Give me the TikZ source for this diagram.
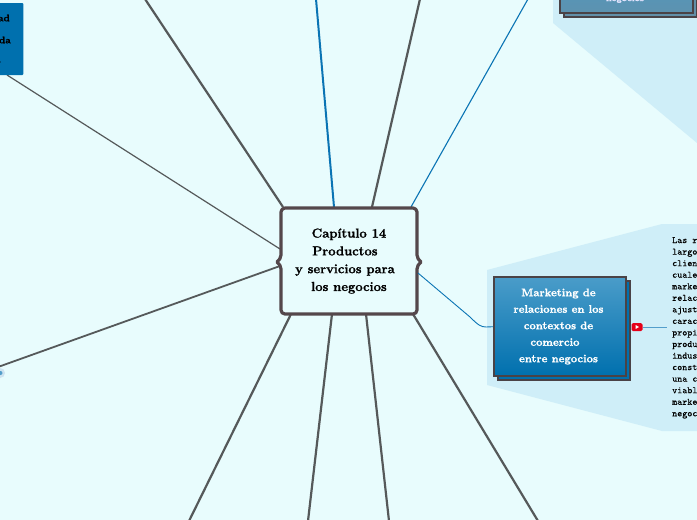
\documentclass[tikz,border=0pt]{standalone}
\usepackage{fontspec}
\usetikzlibrary{calc}
\newfontfamily\heavyserif{Latin Modern Roman}[BoldFeatures={FakeBold=1.2}]
\newfontfamily\heavymono{Latin Modern Mono}[FakeBold=0.2]
\definecolor{bgc}{HTML}{E8FCFD}
\definecolor{shade}{HTML}{CFEEF8}
\definecolor{darkline}{HTML}{55595A}
\definecolor{bluel}{HTML}{0A74B4}
\definecolor{edge}{HTML}{4A4246}
\definecolor{centeredge}{HTML}{54474B}
\definecolor{topb}{HTML}{4A9CC9}
\definecolor{botb}{HTML}{0070AE}
\tikzset{
  x=1pt,y=-1pt,
  grayline/.style={draw=darkline,line width=2.2pt},
  thingray/.style={draw=darkline,line width=1.2pt},
  blueline/.style={draw=bluel,line width=2.2pt},
  thinblue/.style={draw=bluel,line width=1.1pt},
  hullshade/.style={fill=shade,draw=none},
  mainbox/.style={draw=edge,line width=2.4pt,top color=topb,bottom color=botb,minimum width=132pt,minimum height=99pt,inner sep=0pt,anchor=north west},
  shadowbox/.style={draw=edge,line width=2.4pt,fill=botb,minimum width=132pt,minimum height=99pt,inner sep=0pt,anchor=north west},
  boxtext/.style={text=white,font=\fontsize{11}{16.5}\selectfont\heavyserif\bfseries,align=center},
  titletext/.style={text=black,font=\fontsize{13}{17.8}\selectfont\heavyserif\bfseries,align=center},
  monotext/.style={font=\fontsize{9.6}{11.55}\selectfont\heavymono,align=left,anchor=north west,inner sep=0pt},
  cornertext/.style={font=\fontsize{9.5}{10}\selectfont\heavyserif\bfseries,anchor=east,inner sep=0pt}
}
\begin{document}
\begin{tikzpicture}
\useasboundingbox (0,0) rectangle (697,520);
\clip (0,0) rectangle (697,520);
\fill[bgc] (0,0) rectangle (697,520);
% shaded hulls
\fill[hullshade] (487,270) -- (662,224) -- (697,224) -- (697,431) -- (662,431) -- (487,385) -- cycle;
\fill[hullshade] (553,-2) -- (553,23) -- (697,143) -- (697,-2) -- cycle;
% free ends
\coordinate (e1) at (145,-1);
\coordinate (e2) at (316,-1);
\coordinate (e3) at (420,-1);
\coordinate (e4) at (528,-1);
\coordinate (e5) at (7,75);
\coordinate (e6) at (-2,367);
\coordinate (e7) at (189,521);
\coordinate (e8) at (308,521);
\coordinate (e9) at (389,521);
\coordinate (e10) at (538,521);
\coordinate (c1) at (283,207);
\coordinate (c2) at (334,207);
\coordinate (c3) at (372,207);
\coordinate (c4) at (411,207);
\coordinate (c5) at (280,249);
\coordinate (c6) at (280,266);
\coordinate (c7) at (291,314);
\coordinate (c8) at (332,314);
\coordinate (c9) at (366,314);
\coordinate (c10) at (413,314);
\coordinate (c11) at (418,273);
\draw[grayline] (c1) -- (e1);
\draw[blueline,line width=2pt] (c2) -- (e2);
\draw[grayline] (c3) -- (e3);
\draw[thinblue] (c4) -- (e4);
\draw[thingray] (c5) -- (e5);
\draw[grayline,line width=1.8pt] (c6) -- (e6);
\draw[grayline] (c7) -- (e7);
\draw[grayline] (c8) -- (e8);
\draw[grayline] (c9) -- (e9);
\draw[grayline] (c10) -- (e10);
% central node
\draw[centeredge,line width=3.2pt,fill=bgc,line join=round]
  (285,208) -- (413,208) to[out=0,in=90] (417,212) -- (417,255) to[out=-90,in=135] (421,262)
  to[out=-135,in=90] (417,269) -- (417,310) to[out=-90,in=0] (413,314) -- (285,314)
  to[out=180,in=-90] (281,310) -- (281,269) to[out=90,in=-45] (277,262) to[out=45,in=-90] (281,255)
  -- (281,212) to[out=90,in=180] (285,208) -- cycle;
\node[titletext] (center) at (349,261) {Capítulo 14\\Productos\hphantom{n}\\y servicios para\hphantom{n}\\los negocios};
% marketing box
\node[shadowbox] (mshadow) at (497,280) {};
\node[mainbox] (mbox) at (493,276) {};
\node[boxtext] (mtext) at (558.5,326.5) {Marketing de\\relaciones en los\\contextos de\\comercio\hphantom{n}\\entre negocios};
\draw[thinblue,line width=0.9pt] (c11) -- (470,317) .. controls (478,325) and (481,327) .. (486,327) -- (mbox.west);
% youtube icon and its note
\node[fill=red!90!blue,rounded corners=1.5pt,minimum width=11pt,minimum height=8pt,inner sep=0pt] (yt) at (637,327) {};
\fill[white] (635.6,325) -- (639,327) -- (635.6,329) -- cycle;
\coordinate (notel) at (667,327);
\draw[thinblue,line width=0.6pt,draw=bluel!70] (yt.east) -- (notel);
\node[monotext] (note) at (672,237) {Las r\\largo\\clien\\cuale\\marke\\relac\\ajust\\carac\\propi\\produ\\indus\\const\\una c\\viabl\\marke\\negoc};
% top right box
\node[shadowbox,fill=topb!55!gray,minimum width=133pt,minimum height=30pt] (tshadow) at (562.5,-14) {};
\node[mainbox,top color=topb!80!gray,bottom color=topb!65!gray,minimum width=133pt,minimum height=30pt] (tbox) at (558.5,-18) {};
\node[boxtext,font=\fontsize{8.5}{10}\selectfont\heavyserif\bfseries,text=white!90!blue] (ttext) at (625,-1) {negocios};
% top left box
\node[fill=botb,rounded corners=1pt,minimum width=40pt,minimum height=72pt,inner sep=0pt,anchor=north east] (lbox) at (23.5,2.8) {};
\node[cornertext] (l1) at (10,18) {ad};
\node[cornertext] (l2) at (11,40) {da};
\node[cornertext] (l3) at (1.5,62) {.};
% small attachment icon
\fill[bluel!20] (0,373) circle (5);
\fill[bluel!70] (0.5,373) circle (2);
\end{tikzpicture}
\end{document}
